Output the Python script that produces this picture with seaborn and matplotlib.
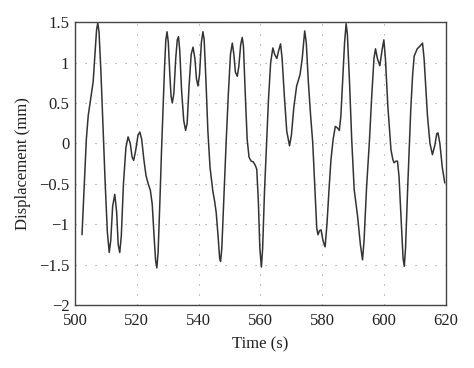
import numpy as np
import pandas as pd
import seaborn as sns
import matplotlib
matplotlib.use("Agg")
import matplotlib.pyplot as plt

# displacement trace
time_s = [
    502.3, 503.0, 503.7, 504.3, 505.0, 505.9, 506.5, 507.0, 507.4, 507.8,
    508.4, 509.1, 509.8, 510.5, 511.1, 511.6, 512.2, 512.9, 513.5, 514.0,
    514.5, 515.0, 515.7, 516.5, 517.2, 517.9, 518.5, 519.0, 519.6, 520.4,
    521.0, 521.6, 522.3, 523.0, 523.7, 524.4, 525.0, 525.6, 526.1, 526.5,
    526.9, 527.5, 528.0, 528.5, 529.0, 529.4, 529.8, 530.2, 530.7, 531.1,
    531.5, 532.0, 532.6, 533.1, 533.5, 533.9, 534.5, 535.2, 535.8, 536.3,
    536.9, 537.6, 538.2, 538.8, 539.3, 539.8, 540.3, 540.9, 541.4, 541.8,
    542.4, 543.0, 543.7, 544.6, 545.2, 545.7, 546.3, 546.8, 547.1, 547.5,
    548.2, 548.9, 549.6, 550.3, 550.9, 551.4, 551.9, 552.5, 553.0, 553.6,
    554.1, 554.5, 555.1, 555.7, 556.3, 557.0, 557.7, 558.3, 558.8, 559.3,
    559.8, 560.3, 560.7, 561.3, 562.0, 562.6, 563.3, 564.0, 564.6, 565.3,
    565.9, 566.5, 567.0, 567.7, 568.5, 569.4, 570.0, 570.8, 571.7, 572.8,
    573.5, 574.3, 574.8, 575.5, 576.2, 576.9, 577.6, 578.2, 578.6, 579.1,
    579.6, 580.2, 580.9, 581.5, 582.2, 582.8, 583.5, 584.2, 584.9, 585.5,
    586.0, 586.6, 587.2, 587.7, 588.1, 588.8, 589.5, 590.3, 591.4, 592.3,
    593.0, 593.5, 594.3, 595.2, 596.0, 596.7, 597.2, 597.8, 598.6, 599.3,
    599.9, 600.4, 601.2, 602.2, 602.8, 603.2, 603.8, 604.3, 604.8, 605.5,
    606.1, 606.5, 606.9, 607.6, 608.6, 609.2, 609.7, 610.7, 611.5, 612.4,
    612.9, 613.5, 614.0, 614.8, 615.6, 616.4, 617.0, 617.4, 618.0, 618.8,
    619.6,
]
displacement_mm = [
    -1.13, -0.55, 0.05, 0.34, 0.52, 0.76, 1.10, 1.40, 1.49, 1.38,
    0.90, 0.21, -0.50, -1.10, -1.35, -1.20, -0.78, -0.63, -0.85, -1.25,
    -1.35, -1.15, -0.50, -0.05, 0.08, 0.00, -0.17, -0.21, -0.10, 0.10,
    0.14, 0.05, -0.20, -0.40, -0.50, -0.58, -0.75, -1.15, -1.45, -1.54,
    -1.35, -0.70, -0.10, 0.42, 0.95, 1.28, 1.38, 1.25, 0.85, 0.58,
    0.50, 0.62, 1.05, 1.28, 1.32, 1.15, 0.65, 0.28, 0.16, 0.25,
    0.70, 1.10, 1.19, 1.05, 0.80, 0.71, 0.85, 1.25, 1.38, 1.28,
    0.75, 0.15, -0.30, -0.59, -0.72, -0.86, -1.15, -1.42, -1.46, -1.30,
    -0.65, 0.01, 0.60, 1.10, 1.24, 1.10, 0.88, 0.83, 0.95, 1.22,
    1.31, 1.20, 0.60, 0.05, -0.17, -0.22, -0.23, -0.27, -0.32, -0.70,
    -1.30, -1.53, -1.30, -0.60, 0.01, 0.55, 1.00, 1.18, 1.10, 1.05,
    1.15, 1.23, 1.05, 0.60, 0.15, -0.03, 0.10, 0.45, 0.71, 0.85,
    1.05, 1.39, 1.25, 0.75, 0.35, 0.01, -0.55, -1.05, -1.13, -1.08,
    -1.07, -1.20, -1.28, -1.00, -0.55, -0.20, 0.05, 0.21, 0.19, 0.16,
    0.34, 0.80, 1.25, 1.48, 1.35, 0.75, 0.05, -0.57, -0.90, -1.25,
    -1.44, -1.20, -0.55, 0.01, 0.60, 1.05, 1.17, 1.05, 0.96, 1.15,
    1.28, 1.05, 0.45, -0.08, -0.20, -0.24, -0.22, -0.22, -0.41, -0.95,
    -1.42, -1.52, -1.30, -0.55, 0.42, 0.85, 1.08, 1.17, 1.20, 1.24,
    1.05, 0.65, 0.34, 0.00, -0.14, -0.02, 0.12, 0.13, 0.00, -0.30,
    -0.49,
]
x_ticks = [500, 520, 540, 560, 580, 600, 620]
y_ticks = [-2, -1.5, -1, -0.5, 0, 0.5, 1, 1.5]
y_labels = ["\u22122", "\u22121.5", "\u22121", "\u22120.5", "0", "0.5", "1", "1.5"]

df = pd.DataFrame({"Time (s)": time_s, "Displacement (mm)": displacement_mm})

sns.set_style("white")
plt.rcParams["font.family"] = ["Liberation Serif", "DejaVu Serif"]

fig = plt.figure(figsize=(4.74, 3.68), dpi=100)
ax = fig.add_axes([0.158, 0.171, 0.783, 0.769])

sns.lineplot(data=df, x="Time (s)", y="Displacement (mm)", ax=ax,
             color="#333333", linewidth=1.1, sort=False)

ax.set_xlim(500, 620)
ax.set_ylim(-2, 1.5)
ax.set_xticks(x_ticks)
ax.set_yticks(y_ticks)
ax.set_yticklabels(y_labels)
ax.tick_params(labelsize=12, length=0, pad=4, colors="#222222")
ax.tick_params(axis="x", pad=6)
ax.grid(True, linestyle=(0, (1, 8)), color="#999999", linewidth=0.8)
for s in ax.spines.values():
    s.set_color("#444444")
    s.set_linewidth(1.0)
ax.set_xlabel("Time (s)", fontsize=12, labelpad=5, color="#222222")
ax.set_ylabel("Displacement (mm)", fontsize=12, labelpad=6, color="#222222")

fig.savefig("out.png", dpi=100)
